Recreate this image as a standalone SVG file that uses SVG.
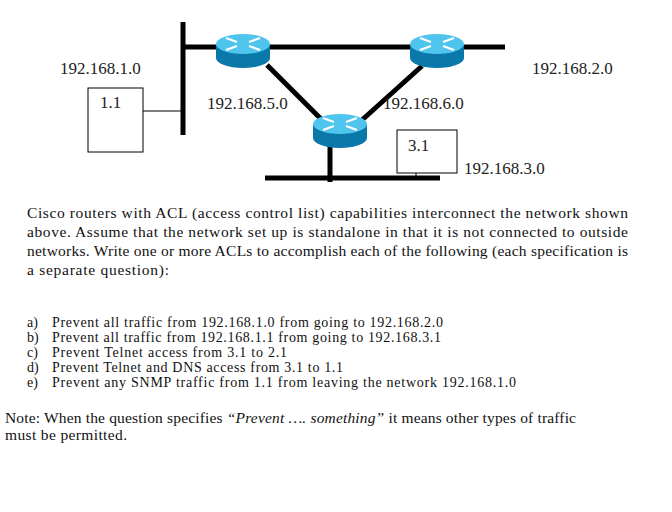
<svg xmlns="http://www.w3.org/2000/svg" width="672" height="512" viewBox="0 0 672 512">
<style>
.t{font-family:"Liberation Serif",serif;font-size:17px;fill:#222}
.b{font-family:"Liberation Serif",serif;font-size:15.5px;fill:#111}
.l{font-family:"Liberation Serif",serif;font-size:14px;fill:#111}
.w{stroke:#000;stroke-width:5;fill:none}
.bx{fill:#fff;stroke:#000;stroke-width:1}
.arr{stroke:#fff;stroke-width:2.2;fill:none}
</style>
<defs>
<g id="rt">
<path d="M-27,0 v14 a27,10 0 0 0 54,0 v-14 z" fill="#0a78a8"/>
<ellipse cx="0" cy="0" rx="27" ry="10" fill="#4fc4ec"/>
<path class="arr" d="M-17,-6 l11,4 M-17,6 l11,-4 M17,-6 l-11,4 M17,6 l-11,-4"/>
</g>
</defs>
<rect width="672" height="512" fill="#fff"/>
<g id="connectors">
<line class="w" x1="183" y1="22" x2="183" y2="135"/>
<line class="w" x1="183" y1="47" x2="505" y2="47"/>
<line class="w" x1="267" y1="65" x2="322" y2="120"/>
<line class="w" x1="422" y1="66" x2="362" y2="120"/>
<line class="w" x1="330" y1="140" x2="330" y2="182"/>
<line class="w" x1="265" y1="178" x2="440" y2="178"/>
<line stroke="#000" stroke-width="1" x1="143" y1="111" x2="183" y2="111"/>
<line stroke="#000" stroke-width="1" x1="416" y1="170" x2="416" y2="178"/>
</g>
<g id="r1"><use href="#rt" x="243" y="44"/></g>
<g id="r2"><use href="#rt" x="437" y="44"/></g>
<g id="r3"><use href="#rt" x="340" y="124"/></g>
<g id="h11"><rect class="bx" x="88" y="88" width="55" height="64"/><text class="t" x="100" y="108">1.1</text></g>
<g id="h31"><rect class="bx" x="397" y="130" width="60" height="43"/><text class="t" x="408" y="151">3.1</text></g>
<g id="labels">
<text class="t" x="60" y="74">192.168.1.0</text>
<text class="t" x="532" y="74">192.168.2.0</text>
<text class="t" x="207" y="109">192.168.5.0</text>
<text class="t" x="383" y="109">192.168.6.0</text>
<text class="t" x="464" y="174">192.168.3.0</text>
</g>
<g id="body">
<text class="b" x="27" y="218" textLength="601" lengthAdjust="spacing">Cisco routers with ACL (access control list) capabilities interconnect the network shown</text>
<text class="b" x="27" y="237" textLength="601" lengthAdjust="spacing">above. Assume that the network set up is standalone in that it is not connected to outside</text>
<text class="b" x="27" y="256" textLength="601" lengthAdjust="spacing">networks. Write one or more ACLs to accomplish each of the following (each specification is</text>
<text class="b" x="27" y="275" textLength="142">a separate question):</text>
<text class="l" x="27" y="327">a)</text><text class="l" x="52" y="327" textLength="391">Prevent all traffic from 192.168.1.0 from going to 192.168.2.0</text>
<text class="l" x="27" y="342">b)</text><text class="l" x="52" y="342" textLength="389">Prevent all traffic from 192.168.1.1 from going to 192.168.3.1</text>
<text class="l" x="27" y="357">c)</text><text class="l" x="52" y="357" textLength="235">Prevent Telnet access from 3.1 to 2.1</text>
<text class="l" x="27" y="372">d)</text><text class="l" x="52" y="372" textLength="291">Prevent Telnet and DNS access from 3.1 to 1.1</text>
<text class="l" x="27" y="387">e)</text><text class="l" x="52" y="387" textLength="464">Prevent any SNMP traffic from 1.1 from leaving the network 192.168.1.0</text>
<text class="b" x="5" y="423" textLength="571">Note: When the question specifies <tspan font-style="italic">“Prevent …. something”</tspan> it means other types of traffic</text>
<text class="b" x="5" y="440" textLength="122">must be permitted.</text>
</g>
</svg>
